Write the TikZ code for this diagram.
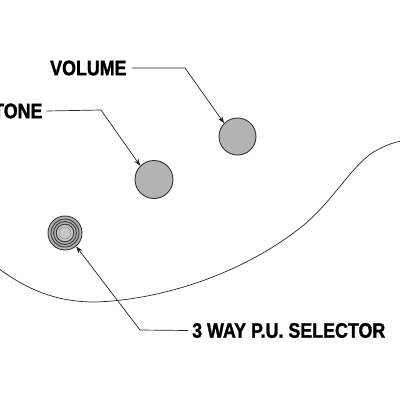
\documentclass[tikz,border=0pt]{standalone}
\usepackage{fontspec}
\setmainfont[FakeStretch=0.85,BoldFeatures={FakeBold=1.3}]{Liberation Sans}
\usetikzlibrary{arrows.meta}
\definecolor{knobgray}{HTML}{B3B3B3}
\definecolor{knobline}{HTML}{333333}
\definecolor{inner}{HTML}{C8C8C8}
\tikzset{
  knob/.style={circle, draw=knobline, fill=knobgray, line width=0.9pt, minimum size=#1, inner sep=0pt},
  lbl/.style={font=\fontsize{21}{21}\selectfont\bfseries, inner sep=0pt},
  leader/.style={draw=black!85, line width=0.7pt, -{Stealth[length=7pt,width=5pt]}},
  body/.style={draw=black!85, line width=0.7pt}
}
\begin{document}
\begin{tikzpicture}[x=1pt,y=-1pt]
\useasboundingbox (0,0) rectangle (400,400);
% body outline
\draw[body] (-2,268) .. controls (30,292) and (60,302) .. (95,302)
  .. controls (160,300) and (240,275) .. (300,228)
  .. controls (330,205) and (350,168) .. (372,153)
  .. controls (385,145) and (395,142) .. (402,141);
% knobs
\node[knob=37pt] (vol) at (237.5,136.5) {};
\node[knob=38pt] (tone) at (154,179.5) {};
% selector
\node[knob=34pt] (sel) at (65,233) {};
\draw[knobline, line width=0.9pt] (sel.center) circle (14);
\draw[knobline, line width=0.9pt] (sel.center) circle (11.5);
\draw[knobline, line width=0.9pt, fill=inner] (sel.center) circle (8.8);
\draw[knobgray!70!black, line width=0.4pt, fill=inner] (sel.center) circle (6);
% labels
\node[lbl, anchor=west] (lvol) at (50,68) {VOLUME};
\node[lbl, anchor=west] (ltone) at (-7,111) {TONE};
\node[lbl, anchor=west] (lsel) at (192,330.5) {3 WAY P.U. SELECTOR};
% leaders
\coordinate (cv) at (185,68);
\coordinate (ct) at (101,110);
\coordinate (cs) at (140,330);
\draw[leader] ([xshift=5pt]lvol.east) -- (cv) -- (vol.135);
\draw[leader] ([xshift=4pt]ltone.east) -- (ct) -- (tone.135);
\draw[leader] ([xshift=-4pt]lsel.west) -- (cs) -- (sel.-50);
\end{tikzpicture}
\end{document}
